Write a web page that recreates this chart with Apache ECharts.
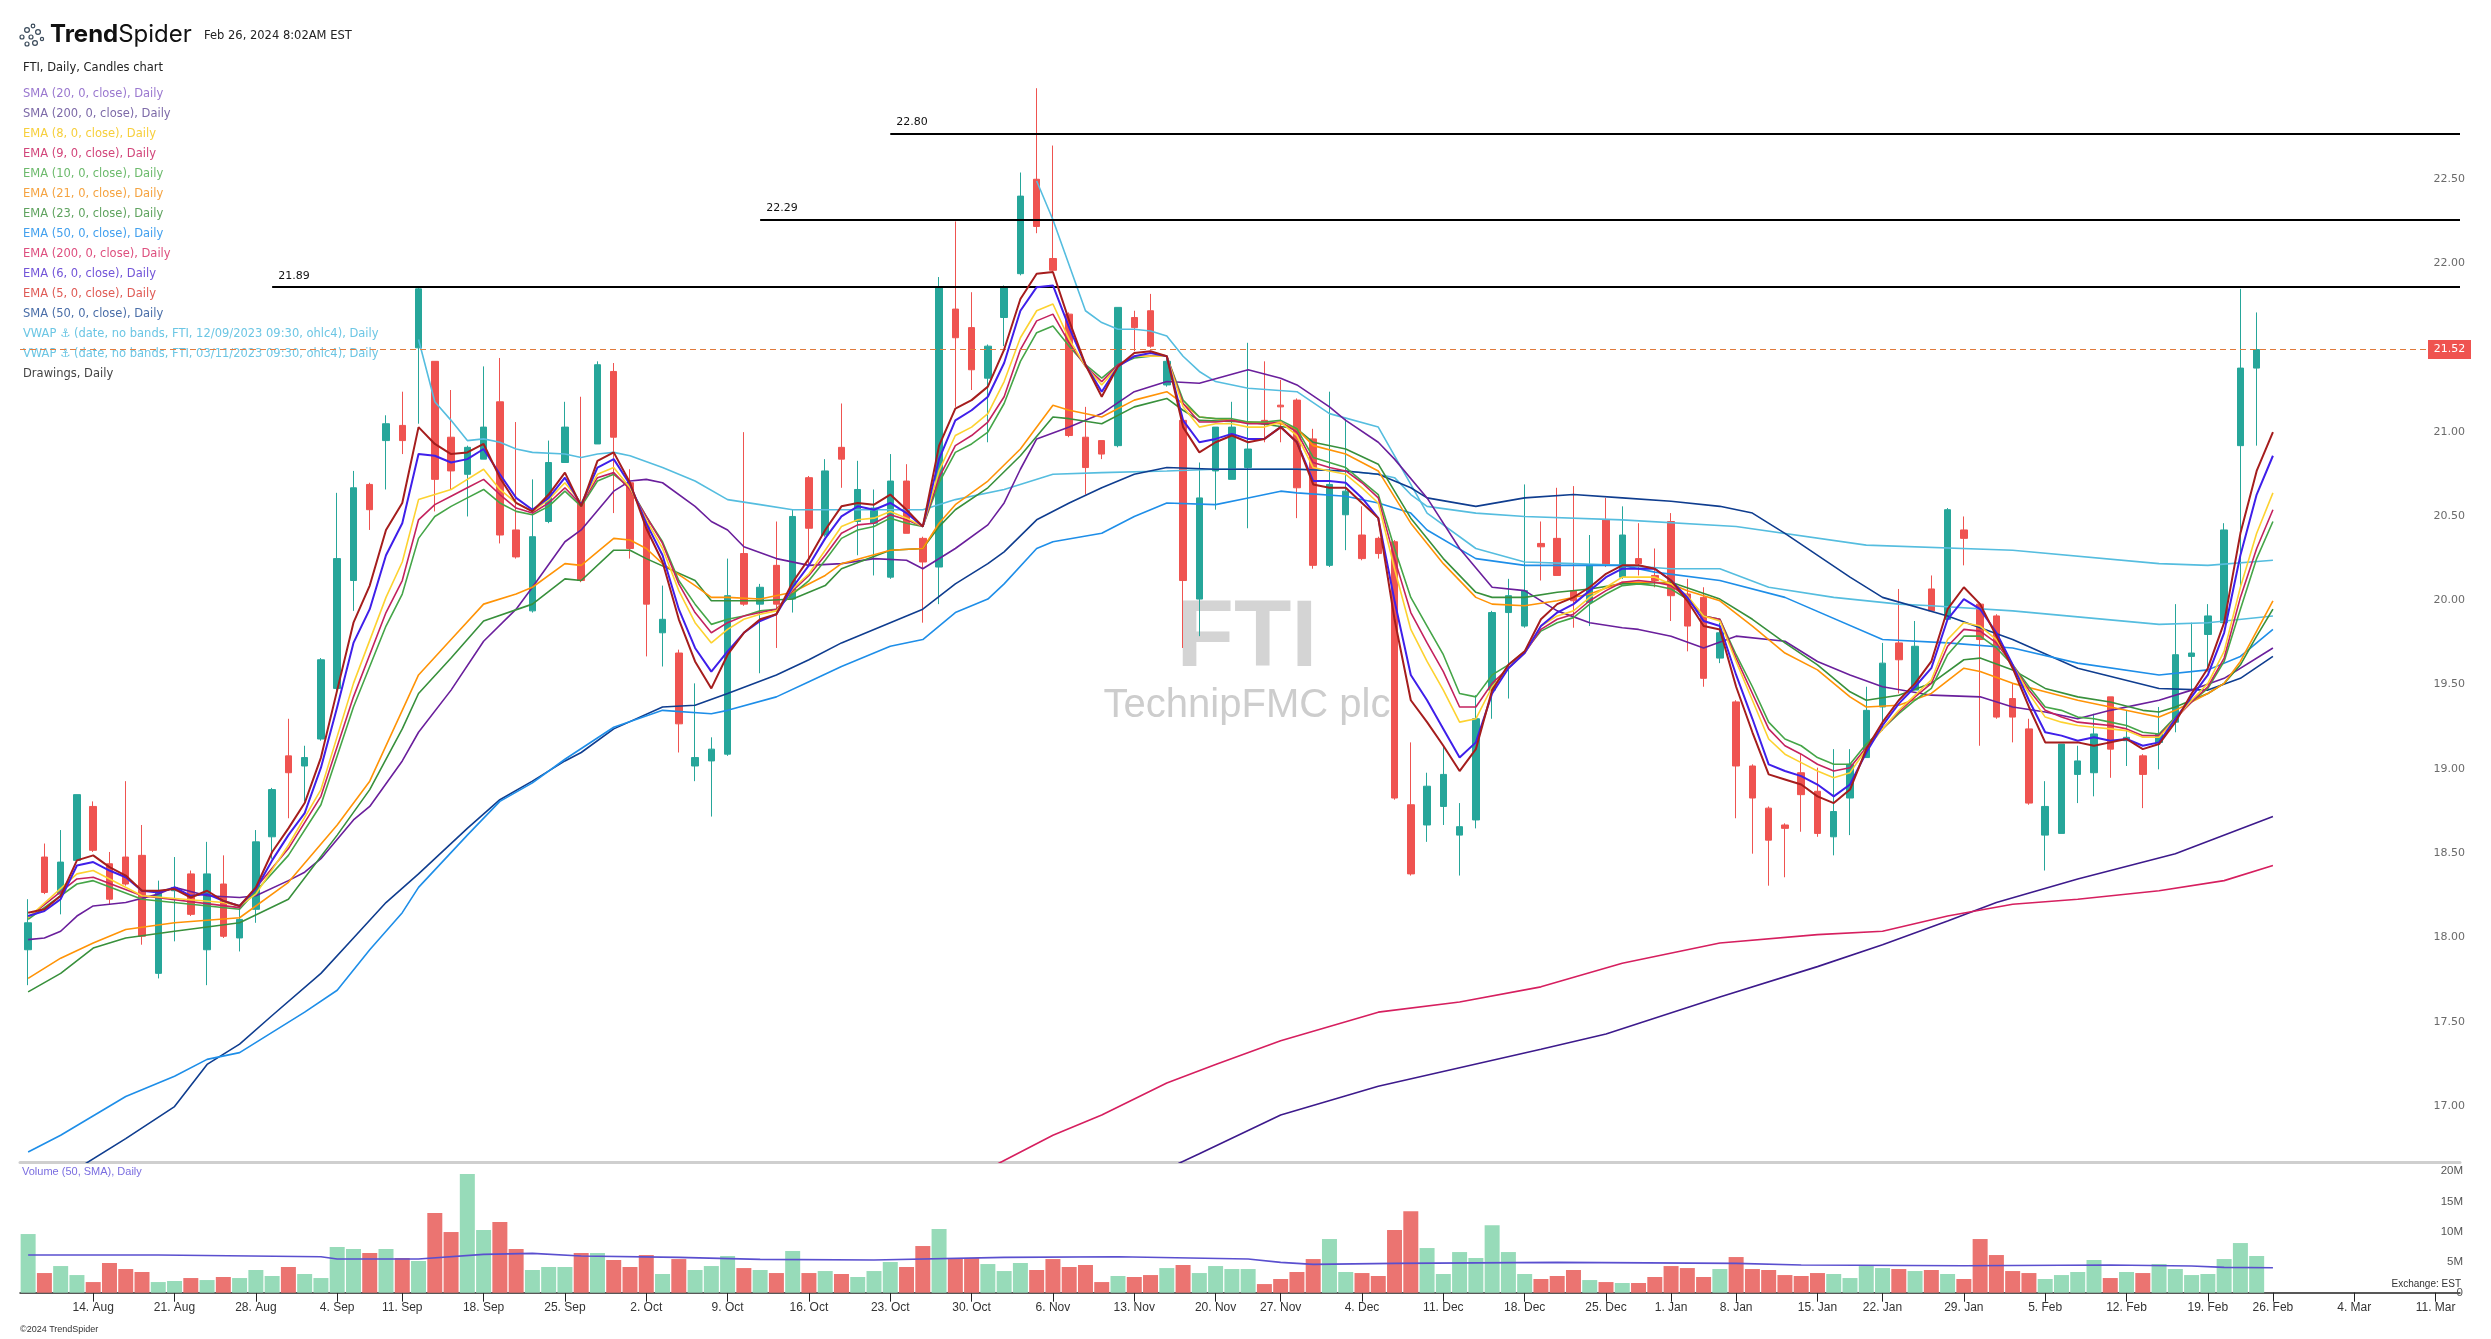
<!DOCTYPE html>
<html><head><meta charset="utf-8">
<script src="https://cdn.jsdelivr.net/npm/echarts@6/dist/echarts.min.js"></script>
<style>html,body{margin:0;padding:0;background:#fff}#c{width:2491px;height:1339px}</style>
</head><body><div id="c"></div>
<script>
// ---------- DATA ----------
const tradingDays = [
 '2023-08-08','2023-08-09','2023-08-10','2023-08-11','2023-08-14','2023-08-15','2023-08-16','2023-08-17','2023-08-18','2023-08-21',
 '2023-08-22','2023-08-23','2023-08-24','2023-08-25','2023-08-28','2023-08-29','2023-08-30','2023-08-31','2023-09-01','2023-09-05',
 '2023-09-06','2023-09-07','2023-09-08','2023-09-11','2023-09-12','2023-09-13','2023-09-14','2023-09-15','2023-09-18','2023-09-19',
 '2023-09-20','2023-09-21','2023-09-22','2023-09-25','2023-09-26','2023-09-27','2023-09-28','2023-09-29','2023-10-02','2023-10-03',
 '2023-10-04','2023-10-05','2023-10-06','2023-10-09','2023-10-10','2023-10-11','2023-10-12','2023-10-13','2023-10-16','2023-10-17',
 '2023-10-18','2023-10-19','2023-10-20','2023-10-23','2023-10-24','2023-10-25','2023-10-26','2023-10-27','2023-10-30','2023-10-31',
 '2023-11-01','2023-11-02','2023-11-03','2023-11-06','2023-11-07','2023-11-08','2023-11-09','2023-11-10','2023-11-13','2023-11-14',
 '2023-11-15','2023-11-16','2023-11-17','2023-11-20','2023-11-21','2023-11-22','2023-11-24','2023-11-27','2023-11-28','2023-11-29',
 '2023-11-30','2023-12-01','2023-12-04','2023-12-05','2023-12-06','2023-12-07','2023-12-08','2023-12-11','2023-12-12','2023-12-13',
 '2023-12-14','2023-12-15','2023-12-18','2023-12-19','2023-12-20','2023-12-21','2023-12-22','2023-12-26','2023-12-27','2023-12-28',
 '2023-12-29','2024-01-02','2024-01-03','2024-01-04','2024-01-05','2024-01-08','2024-01-09','2024-01-10','2024-01-11','2024-01-12',
 '2024-01-16','2024-01-17','2024-01-18','2024-01-19','2024-01-22','2024-01-23','2024-01-24','2024-01-25','2024-01-26','2024-01-29',
 '2024-01-30','2024-01-31','2024-02-01','2024-02-02','2024-02-05','2024-02-06','2024-02-07','2024-02-08','2024-02-09','2024-02-12',
 '2024-02-13','2024-02-14','2024-02-15','2024-02-16','2024-02-20','2024-02-21','2024-02-22','2024-02-23'
];
const futureDays = ['2024-02-26','2024-02-27','2024-02-28','2024-02-29','2024-03-01','2024-03-04','2024-03-05','2024-03-06','2024-03-07','2024-03-08','2024-03-11','2024-03-12'];

const opens = [
 17.96,18.51,18.29,18.49,18.81,18.47,18.51,18.52,17.82,18.31,
 18.41,17.96,18.35,18.03,18.20,18.63,19.11,19.05,19.21,19.51,
 20.15,20.72,20.98,21.07,21.53,21.45,21.00,20.78,20.87,21.21,
 20.45,19.97,20.50,20.85,20.62,20.96,21.39,20.73,20.50,19.84,
 19.72,19.05,19.08,19.12,20.31,20.01,20.24,20.04,20.76,20.42,
 20.94,20.50,20.49,20.17,20.74,20.40,20.23,21.76,21.65,21.35,
 21.71,21.97,22.53,22.06,21.73,21.00,20.98,20.95,21.71,21.75,
 21.31,21.10,20.04,20.80,20.75,20.82,21.10,21.19,21.22,20.99,
 20.24,20.54,20.42,20.40,20.38,18.82,18.70,18.81,18.64,18.73,
 19.50,19.96,19.88,20.37,20.40,20.09,20.02,20.51,20.17,20.28,
 20.18,20.50,20.07,20.05,19.69,19.43,19.05,18.80,18.70,19.01,
 18.90,18.63,18.86,19.10,19.40,19.78,19.50,20.10,19.92,20.45,
 20.01,19.94,19.45,19.27,18.64,18.65,19.00,19.01,19.46,19.20,
 19.11,19.19,19.31,19.70,19.83,19.90,20.95,21.41
];
const closes = [
 18.12,18.30,18.48,18.88,18.55,18.26,18.35,18.04,18.31,18.33,
 18.17,18.41,18.04,18.14,18.60,18.91,19.01,19.10,19.68,20.28,
 20.70,20.57,21.08,20.98,21.88,20.75,20.80,20.94,21.06,20.42,
 20.29,20.41,20.85,21.06,20.15,21.43,21.00,20.34,20.01,19.92,
 19.30,19.10,19.15,20.06,20.01,20.11,20.01,20.53,20.46,20.80,
 20.87,20.69,20.58,20.74,20.43,20.26,21.89,21.59,21.40,21.54,
 21.89,22.43,22.25,21.99,21.01,20.82,20.90,21.77,21.65,21.54,
 21.45,20.15,20.64,21.06,21.06,20.93,21.08,21.18,20.70,20.24,
 20.72,20.68,20.28,20.31,18.86,18.41,18.93,19.00,18.69,19.33,
 19.96,20.06,20.09,20.35,20.18,20.03,20.24,20.24,20.42,20.25,
 20.15,20.06,19.88,19.57,19.84,19.05,18.86,18.61,18.68,18.88,
 18.65,18.78,19.06,19.38,19.66,19.68,19.76,19.97,20.57,20.40,
 19.80,19.34,19.34,18.83,18.81,19.18,19.08,19.24,19.15,19.22,
 19.00,19.24,19.71,19.72,19.94,20.45,21.41,21.52
];
const lows = [
 17.75,18.29,18.17,18.49,18.54,18.23,18.34,17.99,17.79,18.01,
 18.16,17.75,18.03,17.95,18.12,18.50,18.74,18.84,19.20,19.50,
 19.97,20.45,20.69,20.90,21.08,20.56,20.69,20.53,20.87,20.37,
 20.28,19.96,20.49,20.85,20.14,20.96,20.55,20.28,19.70,19.64,
 19.13,18.96,18.75,19.11,20.00,19.60,19.75,19.96,20.24,20.41,
 20.70,20.30,20.18,20.16,20.43,19.90,20.01,21.18,21.28,20.97,
 21.54,21.96,22.21,21.98,21.00,20.66,20.87,20.94,21.51,21.53,
 21.30,19.75,19.82,20.57,20.75,20.46,20.97,20.97,20.52,20.22,
 20.23,20.33,20.27,20.28,18.85,18.40,18.60,18.70,18.40,18.68,
 19.33,19.45,19.87,20.15,20.18,19.87,19.88,20.23,20.16,20.18,
 20.11,19.91,19.73,19.52,19.66,18.74,18.53,18.34,18.39,18.66,
 18.63,18.52,18.64,19.10,19.26,19.48,19.50,19.97,19.92,20.24,
 19.17,19.33,19.19,18.82,18.43,18.65,18.83,18.87,18.98,19.05,
 18.80,19.03,19.25,19.50,19.61,19.90,20.11,20.95
];
const highs = [
 18.26,18.59,18.67,18.88,18.84,18.54,18.96,18.70,18.37,18.51,
 18.43,18.60,18.52,18.22,18.67,18.92,19.33,19.17,19.69,20.67,
 20.80,20.73,21.13,21.27,21.89,21.45,21.28,20.95,21.42,21.47,
 21.09,20.75,20.98,21.21,21.24,21.45,21.44,20.81,20.51,20.12,
 19.74,19.54,19.22,20.28,21.03,20.13,20.50,20.57,20.77,20.87,
 21.20,20.86,20.69,20.90,20.84,20.41,21.95,22.28,21.86,21.55,
 21.90,22.57,23.07,22.73,21.74,21.18,20.98,21.77,21.75,21.85,
 21.48,21.10,20.85,21.06,21.21,21.56,21.45,21.34,21.23,21.05,
 21.27,21.11,20.59,20.41,20.39,19.19,19.01,19.17,18.83,19.47,
 19.97,20.16,20.72,20.50,20.70,20.71,20.42,20.64,20.59,20.49,
 20.34,20.55,20.16,20.11,19.90,19.44,19.06,18.81,18.71,19.12,
 19.04,19.15,19.15,19.52,19.78,20.10,19.91,20.18,20.58,20.53,
 20.02,19.95,19.54,19.33,18.96,19.18,19.17,19.36,19.46,19.38,
 19.12,19.40,20.01,19.90,20.01,20.49,21.88,21.74
];
// volume in millions
const volumes = [
 9.64,3.23,4.38,2.90,1.75,4.88,3.89,3.40,1.75,1.92,
 2.41,2.08,2.58,2.41,3.73,2.74,4.22,3.07,2.41,7.51,
 7.18,6.52,7.18,5.70,5.21,13.1,9.97,19.5,10.3,11.6,
 7.18,3.73,4.22,4.22,6.52,6.52,5.37,4.22,6.19,3.07,
 5.53,3.73,4.38,6.03,4.05,3.73,3.23,6.85,3.23,3.56,
 3.07,2.58,3.56,5.04,4.22,7.67,10.47,5.70,5.70,4.71,
 3.56,4.88,3.73,5.53,4.22,4.55,1.75,2.74,2.58,2.90,
 4.05,4.55,3.23,4.38,3.89,3.89,1.42,2.25,3.40,5.53,
 8.82,3.40,3.23,2.74,10.3,13.4,7.34,3.07,6.68,5.70,
 11.1,6.68,3.07,2.25,2.74,3.73,2.08,1.75,1.59,1.59,
 2.58,4.38,4.05,2.58,3.89,5.86,3.89,3.73,2.90,2.74,
 3.23,3.07,2.41,4.38,4.05,3.89,3.56,3.73,3.07,2.25,
 8.82,6.19,3.56,3.23,2.25,2.90,3.40,5.37,2.41,3.40,
 3.23,4.71,3.89,2.90,3.07,5.53,8.16,6.03
];
// volume SMA(50): [trading-day number, millions]
const volumeSma = [[0,6.19],[8,6.19],[18,5.92],[19,5.53],[24,5.53],[28,6.30],[31,6.47],[34,6.03],[40,5.81],[45,5.48],[52,5.37],[60,5.81],[67,5.92],[75,5.53],[77,4.99],[79,4.66],[84,4.82],[94,4.99],[105,4.82],[109,4.55],[119,4.44],[128,4.55],[133,4.38],[135,4.16],[138,4.11]];

// short EMAs, one value per trading day (index 138 = Feb 26), null = not read
const ema5 = [
 18.18,18.20,18.28,18.49,18.52,18.45,18.40,18.31,18.31,18.32,
 18.27,18.31,18.25,18.22,18.33,18.54,18.68,18.83,19.10,19.50,
 19.90,20.12,20.45,20.61,21.06,20.96,20.90,20.91,20.96,20.76,
 20.61,20.56,20.66,20.79,20.59,20.86,20.91,20.73,20.46,20.26,
 19.92,19.67,19.51,19.71,19.84,19.92,19.95,20.14,20.28,20.45,
 20.59,20.61,20.60,20.66,20.57,20.47,20.95,21.17,21.22,21.30,
 21.52,21.82,21.97,21.98,21.69,21.43,21.24,21.42,21.50,21.51,
 21.48,21.06,20.91,20.97,21.01,20.97,20.99,21.06,20.97,20.72,
 20.70,20.70,20.61,20.52,19.92,19.44,19.31,19.17,19.02,19.15,
 19.50,19.65,19.73,19.92,20.01,20.05,20.11,20.19,20.24,20.24,
 20.22,20.15,20.03,19.88,19.86,19.52,19.25,19.00,18.97,18.94,
 18.87,18.83,18.91,19.15,19.31,19.44,19.54,19.67,19.98,20.11,
 20.01,19.82,19.63,19.40,19.19,19.19,19.19,19.17,19.19,19.21,
 19.15,19.18,19.31,19.48,19.63,19.90,20.43,20.80,21.03
];
const ema6 = [
 18.16,18.19,18.26,18.46,18.48,18.43,18.39,18.31,18.30,18.33,
 18.28,18.29,18.25,18.22,18.32,18.49,18.64,18.77,19.04,19.40,
 19.78,19.98,20.30,20.49,20.90,20.89,20.85,20.87,20.93,20.78,
 20.64,20.57,20.64,20.76,20.60,20.82,20.87,20.72,20.49,20.30,
 19.98,19.75,19.61,19.73,19.84,19.91,19.95,20.11,20.24,20.40,
 20.53,20.59,20.57,20.61,20.55,20.47,20.87,21.10,21.16,21.24,
 21.44,21.75,21.89,21.90,21.65,21.43,21.27,21.42,21.48,21.50,
 21.48,21.10,20.97,20.99,21.02,20.99,20.99,21.06,20.97,20.74,
 20.74,20.73,20.64,20.52,20.03,19.59,19.44,19.27,19.10,19.19,
 19.48,19.63,19.72,19.88,19.96,20.01,20.09,20.17,20.22,20.22,
 20.22,20.15,20.05,19.91,19.88,19.59,19.33,19.06,19.02,18.99,
 18.94,18.87,18.94,19.13,19.29,19.42,19.52,19.63,19.92,20.04,
 19.98,19.84,19.65,19.44,19.25,19.23,19.20,19.22,19.20,19.21,
 19.17,19.19,19.33,19.46,19.59,19.84,20.30,20.66,20.89
];
const ema8 = [
 18.15,null,null,18.41,18.43,null,null,18.28,null,null,
 null,null,18.24,18.22,18.29,null,18.58,null,18.91,null,
 19.54,null,20.05,20.26,20.63,20.66,20.69,20.75,20.81,20.69,
 20.61,20.56,20.63,20.73,20.61,20.78,20.82,20.70,20.51,20.34,
 20.09,19.90,19.78,19.86,19.92,19.95,19.97,20.10,20.19,20.33,
 20.47,20.51,20.52,20.56,20.52,20.47,20.80,21.01,21.06,21.14,
 21.33,21.59,21.75,21.79,21.58,21.42,21.31,21.42,21.48,21.48,
 21.48,21.18,21.06,21.08,21.08,21.06,21.06,21.09,21.01,20.82,
 20.80,20.78,20.70,20.61,20.22,19.86,19.67,19.50,19.31,19.33,
 19.52,19.63,19.72,19.88,19.94,19.97,20.05,20.11,20.17,20.17,
 20.17,20.13,20.06,19.94,19.91,19.67,19.44,19.21,19.12,19.07,
 19.02,18.98,19.01,19.15,19.27,19.38,19.47,19.56,19.80,19.90,
 19.88,19.80,19.65,19.48,19.34,19.31,19.29,19.28,19.27,19.26,
 19.22,19.22,19.33,19.44,19.54,19.73,20.11,20.43,20.67
];
const ema9 = [
 18.15,null,null,18.38,18.39,null,null,18.28,null,null,
 null,null,null,18.21,null,null,18.56,null,18.87,null,
 19.46,null,19.96,20.15,20.51,20.60,20.65,20.70,20.75,20.66,
 20.58,20.55,20.61,20.70,20.60,20.76,20.79,20.69,20.53,20.37,
 20.13,19.96,19.84,19.90,19.94,19.96,19.98,20.09,20.18,20.30,
 20.43,20.48,20.49,20.54,20.51,20.47,20.76,20.95,21.01,21.09,
 21.24,21.52,21.69,21.73,21.56,21.42,21.33,21.43,21.48,21.48,
 21.48,21.20,21.09,21.09,21.10,21.08,21.08,21.09,21.03,20.85,
 20.82,20.80,20.73,20.64,20.28,19.96,19.78,19.61,19.40,19.40,
 19.54,19.63,19.72,19.86,19.92,19.95,20.03,20.09,20.14,20.15,
 20.14,20.12,20.05,19.94,19.92,19.69,19.48,19.27,19.17,19.12,
 19.06,19.02,19.04,19.16,19.27,19.37,19.46,19.54,19.76,19.86,
 19.85,19.78,19.65,19.50,19.38,19.34,19.31,19.30,19.29,19.27,
 19.23,19.23,19.33,19.43,19.52,19.69,20.05,20.34,20.57
];
const ema10 = [
 18.14,null,null,18.35,18.37,null,null,18.26,null,null,
 null,null,null,18.20,null,null,18.52,null,18.82,null,
 19.40,null,19.88,20.07,20.40,20.53,20.59,20.64,20.69,20.61,
 20.56,20.54,20.59,20.68,20.59,20.74,20.78,20.70,20.53,20.38,
 20.15,20.01,19.89,19.92,19.94,19.97,19.98,20.07,20.15,20.27,
 20.40,20.45,20.47,20.52,20.49,20.47,20.73,20.91,20.96,21.03,
 21.20,21.45,21.62,21.66,21.54,21.43,21.35,21.43,21.47,21.48,
 21.48,21.22,21.12,21.11,21.11,21.09,21.09,21.10,21.05,20.88,
 20.85,20.82,20.74,20.66,20.34,20.05,19.88,19.71,19.48,19.46,
 19.59,19.65,19.73,19.85,19.90,19.93,20.01,20.07,20.12,20.13,
 20.12,20.10,20.04,19.94,19.92,19.71,19.52,19.31,19.21,19.17,
 19.10,19.06,19.06,19.18,19.27,19.36,19.44,19.51,19.71,19.82,
 19.82,19.75,19.65,19.52,19.40,19.38,19.34,19.33,19.31,19.29,
 19.25,19.24,19.34,19.43,19.51,19.67,19.98,20.28,20.50
];
// slower lines, read at [trading-day number, price]
const sma20 = [[0,18.02],[1,18.03],[2,18.07],[3,18.16],[4,18.22],[6,18.24],[8,18.29],[9,18.33],[11,18.28],[13,18.27],[14,18.28],[16,18.37],[17,18.42],[18,18.50],[20,18.73],[21,18.81],[23,19.08],[24,19.25],[26,19.50],[28,19.79],[30,19.98],[31,20.11],[33,20.38],[34,20.45],[36,20.68],[37,20.74],[38,20.75],[39,20.73],[41,20.59],[42,20.50],[43,20.45],[44,20.35],[46,20.28],[48,20.24],[50,20.25],[52,20.28],[54,20.27],[55,20.22],[57,20.34],[59,20.48],[60,20.61],[61,20.81],[62,20.99],[64,21.06],[66,21.14],[68,21.27],[70,21.33],[72,21.32],[75,21.40],[77,21.35],[78,21.31],[80,21.18],[81,21.10],[83,20.97],[84,20.87],[86,20.64],[88,20.34],[90,20.11],[92,20.09],[94,19.97],[96,19.90],[98,19.87],[99,19.86],[101,19.82],[103,19.75],[105,19.82],[108,19.79],[110,19.67],[112,19.59],[114,19.52],[117,19.47],[120,19.46],[122,19.40],[124,19.37],[126,19.33],[128,19.38],[131,19.44],[133,19.50],[135,19.57],[138,19.75]];
const ema21 = [[0,17.79],[2,17.91],[4,18.00],[6,18.08],[9,18.12],[13,18.15],[16,18.36],[19,18.70],[21,18.96],[23,19.38],[24,19.59],[26,19.80],[28,20.01],[30,20.07],[31,20.11],[33,20.25],[34,20.24],[36,20.40],[37,20.39],[38,20.34],[39,20.25],[41,20.12],[42,20.05],[43,20.05],[45,20.04],[47,20.08],[49,20.18],[50,20.25],[53,20.33],[55,20.34],[56,20.49],[57,20.60],[59,20.74],[61,20.93],[63,21.19],[64,21.16],[66,21.12],[68,21.22],[70,21.27],[71,21.20],[72,21.12],[75,21.09],[77,21.08],[78,21.05],[79,20.95],[81,20.90],[83,20.80],[85,20.49],[87,20.25],[89,20.05],[90,20.01],[92,20.00],[94,20.03],[96,20.07],[98,20.14],[100,20.14],[101,20.13],[102,20.09],[104,20.03],[106,19.88],[108,19.72],[110,19.62],[112,19.46],[113,19.40],[115,19.41],[117,19.48],[119,19.63],[120,19.61],[122,19.54],[124,19.49],[126,19.44],[128,19.40],[130,19.36],[131,19.34],[132,19.38],[134,19.48],[135,19.54],[136,19.67],[137,19.85],[138,20.03]];
const ema23 = [[0,17.71],[2,17.82],[4,17.97],[6,18.03],[9,18.07],[13,18.12],[16,18.26],[19,18.64],[21,18.91],[23,19.27],[24,19.48],[26,19.69],[28,19.91],[31,20.01],[33,20.16],[34,20.15],[36,20.33],[37,20.33],[38,20.28],[41,20.15],[42,20.03],[45,20.03],[47,20.04],[49,20.12],[50,20.22],[53,20.33],[55,20.34],[56,20.47],[57,20.57],[59,20.70],[61,20.89],[63,21.12],[64,21.11],[66,21.08],[68,21.18],[70,21.23],[71,21.16],[72,21.10],[75,21.09],[78,21.05],[79,20.97],[81,20.93],[83,20.84],[85,20.52],[87,20.28],[89,20.08],[90,20.05],[92,20.05],[94,20.08],[96,20.10],[98,20.13],[101,20.14],[104,20.04],[106,19.92],[108,19.78],[110,19.65],[112,19.49],[113,19.44],[115,19.47],[117,19.54],[119,19.68],[120,19.69],[122,19.62],[124,19.51],[126,19.46],[128,19.43],[130,19.38],[131,19.37],[132,19.40],[134,19.48],[135,19.54],[136,19.65],[137,19.82],[138,19.98]];
const ema50 = [[0,16.76],[2,16.86],[6,17.09],[9,17.21],[11,17.31],[13,17.35],[17,17.59],[19,17.72],[21,17.96],[23,18.18],[24,18.33],[27,18.64],[29,18.84],[31,18.95],[33,19.09],[36,19.28],[39,19.38],[42,19.36],[43,19.38],[46,19.46],[48,19.55],[50,19.64],[53,19.76],[55,19.80],[57,19.96],[59,20.04],[60,20.13],[62,20.34],[63,20.38],[66,20.43],[68,20.53],[70,20.61],[73,20.60],[75,20.64],[77,20.68],[78,20.67],[81,20.65],[83,20.61],[85,20.55],[86,20.45],[89,20.28],[92,20.24],[95,20.24],[98,20.24],[100,20.20],[104,20.15],[108,20.05],[114,19.80],[118,19.78],[122,19.75],[126,19.66],[131,19.59],[134,19.62],[136,19.70],[138,19.86]];
const sma50 = [[0,16.45],[3,16.66],[6,16.84],[9,17.03],[11,17.28],[13,17.40],[15,17.57],[18,17.82],[20,18.03],[22,18.24],[24,18.41],[27,18.68],[29,18.85],[31,18.96],[33,19.08],[34,19.13],[36,19.27],[39,19.40],[41,19.41],[43,19.48],[46,19.59],[48,19.68],[50,19.78],[53,19.90],[55,19.98],[57,20.13],[59,20.25],[60,20.32],[62,20.51],[64,20.61],[66,20.70],[68,20.78],[70,20.82],[73,20.81],[75,20.81],[78,20.81],[81,20.80],[83,20.78],[85,20.70],[86,20.64],[89,20.59],[92,20.64],[95,20.66],[98,20.64],[101,20.62],[104,20.59],[106,20.55],[108,20.43],[112,20.17],[114,20.05],[118,19.94],[122,19.80],[126,19.63],[131,19.51],[134,19.50],[136,19.57],[138,19.70]];
const sma200 = [[66,16.50],[70,16.66],[72,16.75],[77,16.98],[83,17.15],[88,17.26],[93,17.37],[97,17.46],[104,17.68],[110,17.86],[114,17.99],[118,18.13],[121,18.24],[126,18.38],[132,18.53],[138,18.75]];
const ema200 = [[57,16.56],[60,16.71],[63,16.86],[66,16.98],[70,17.17],[73,17.28],[77,17.42],[83,17.59],[88,17.65],[93,17.74],[98,17.88],[104,18.00],[110,18.05],[114,18.07],[118,18.16],[122,18.23],[126,18.26],[131,18.31],[135,18.37],[138,18.46]];
const vwapSep = [[24,21.58],[25,21.21],[26,21.10],[27,20.98],[28,20.99],[29,20.97],[30,20.93],[31,20.91],[33,20.90],[34,20.88],[35,20.90],[36,20.91],[37,20.89],[39,20.82],[41,20.74],[43,20.63],[45,20.60],[47,20.57],[50,20.57],[55,20.57],[57,20.63],[60,20.69],[63,20.78],[66,20.79],[70,20.80],[73,20.81],[78,20.81],[81,20.80],[83,20.78],[84,20.76],[85,20.66],[86,20.59],[89,20.55],[92,20.53],[98,20.51],[105,20.47],[113,20.36],[122,20.33],[131,20.25],[134,20.24],[138,20.27]];
const vwapNov = [[62,22.52],[63,22.29],[64,22.02],[65,21.75],[66,21.68],[67,21.64],[68,21.64],[69,21.63],[70,21.60],[71,21.48],[72,21.39],[73,21.33],[75,21.29],[78,21.27],[80,21.14],[83,21.06],[85,20.72],[86,20.55],[89,20.34],[92,20.26],[95,20.25],[98,20.24],[101,20.22],[104,20.22],[107,20.11],[111,20.05],[115,20.01],[117,20.00],[122,19.97],[131,19.89],[134,19.90],[138,19.94]];

// horizontal levels (value, first day drawn)
const levels = [{value:21.89, from:'2023-08-29'},{value:22.29, from:'2023-10-11'},{value:22.80, from:'2023-10-23'}];
const lastPrice = 21.52;
const priceTicks = [17,17.5,18,18.5,19,19.5,20,20.5,21,21.5,22,22.5];
const volumeTicks = [0,5,10,15,20];
const tickLabels = {'2023-08-14':'14. Aug','2023-08-21':'21. Aug','2023-08-28':'28. Aug','2023-09-05':'4. Sep','2023-09-11':'11. Sep','2023-09-18':'18. Sep','2023-09-25':'25. Sep','2023-10-02':'2. Oct','2023-10-09':'9. Oct','2023-10-16':'16. Oct','2023-10-23':'23. Oct','2023-10-30':'30. Oct','2023-11-06':'6. Nov','2023-11-13':'13. Nov','2023-11-20':'20. Nov','2023-11-27':'27. Nov','2023-12-04':'4. Dec','2023-12-11':'11. Dec','2023-12-18':'18. Dec','2023-12-26':'25. Dec','2024-01-02':'1. Jan','2024-01-08':'8. Jan','2024-01-16':'15. Jan','2024-01-22':'22. Jan','2024-01-29':'29. Jan','2024-02-05':'5. Feb','2024-02-12':'12. Feb','2024-02-20':'19. Feb','2024-02-26':'26. Feb','2024-03-04':'4. Mar','2024-03-11':'11. Mar'};

const legendItems = [
 ['SMA (20, 0, close), Daily','#9a78cf'],
 ['SMA (200, 0, close), Daily','#7d6aa8'],
 ['EMA (8, 0, close), Daily','#f7cf3c'],
 ['EMA (9, 0, close), Daily','#d2457a'],
 ['EMA (10, 0, close), Daily','#6cba6c'],
 ['EMA (21, 0, close), Daily','#f5a340'],
 ['EMA (23, 0, close), Daily','#5fa35f'],
 ['EMA (50, 0, close), Daily','#42a0ee'],
 ['EMA (200, 0, close), Daily','#de4f7e'],
 ['EMA (6, 0, close), Daily','#7254d8'],
 ['EMA (5, 0, close), Daily','#df5a55'],
 ['SMA (50, 0, close), Daily','#4a6ea8'],
 ['VWAP \u2693 (date, no bands, FTI, 12/09/2023 09:30, ohlc4), Daily','#6cc6e4'],
 ['VWAP \u2693 (date, no bands, FTI, 03/11/2023 09:30, ohlc4), Daily','#6cc6e4'],
 ['Drawings, Daily','#444444']
];

// ---------- CHART ----------
const cats = tradingDays.concat(futureDays);
const DV = 'DejaVu Sans, Verdana, sans-serif';
const chart = echarts.init(document.getElementById('c'), null, {width:2491, height:1339});
const pairs = arr => arr.map(p => [cats[p[0]], p[1]]);
const showTick = (i, v) => tickLabels[v] !== undefined;

function lineS(name, data, color, width, z){
  return {type:'line', name, data, xAxisIndex:0, yAxisIndex:0, showSymbol:false, symbol:'none',
    connectNulls:true, clip:true, silent:true, animation:false, z:z||3,
    lineStyle:{color, width:width||1.6}};
}

const UP='#26a69a', DOWN='#ef5350';
const volData = volumes.map((v,i)=>({value:v, itemStyle:{color: closes[i]>=opens[i] ? '#97dbb9' : '#eb7471'}}));

function levelLines(endX){
  return levels.map(l => [
    {coord:[l.from, l.value], lineStyle:{color:'#000', width:2, type:'solid'},
     label:{show:true, position:'insideStartTop', formatter: l.value.toFixed(2), color:'#111', fontSize:11, fontFamily:DV, distance:6}},
    endX == null ? {coord:[cats[cats.length-1], l.value]} : {coord:[cats[cats.length-1], l.value], x:endX}
  ]).concat([{yAxis:lastPrice, lineStyle:{color:'#e07a3c', width:1, type:[6,4]}, label:{show:false}}]);
}

const option = {
  animation:false,
  backgroundColor:'#ffffff',
  textStyle:{fontFamily:DV},
  grid:[
    {left:20, right:31, top:41, height:1121.2},
    {left:20, right:31, top:1171, height:121.7}
  ],
  xAxis:[
    {type:'category', data:cats, gridIndex:0, boundaryGap:true,
     axisLine:{show:true, lineStyle:{color:'#cfcfcf', width:3}}, axisTick:{show:false}, axisLabel:{show:false}, splitLine:{show:false}},
    {type:'category', data:cats, gridIndex:1, boundaryGap:true,
     axisLine:{show:true, lineStyle:{color:'#222', width:1.5}},
     axisTick:{show:true, alignWithLabel:true, interval:showTick, length:9, lineStyle:{color:'#222', width:1}},
     axisLabel:{interval:showTick, formatter:v => tickLabels[v] || '', color:'#333', fontSize:12, margin:9,
       fontFamily:'Liberation Sans Narrow, Liberation Sans, Arial, sans-serif'},
     splitLine:{show:false}}
  ],
  yAxis:[
    {type:'value', gridIndex:0, position:'right', min:16.70, max:23.35, scale:true,
     splitLine:{show:false}, axisLine:{show:false}, axisTick:{show:false},
     axisLabel:{inside:true, margin:-5, customValues:priceTicks, formatter:v=>v.toFixed(2), color:'#6b6b6b', fontSize:11,
       fontFamily:DV, verticalAlign:'bottom'}},
    {type:'value', gridIndex:1, position:'right', min:0, max:20,
     splitLine:{show:false}, axisLine:{show:false}, axisTick:{show:false},
     axisLabel:{inside:true, margin:-3, customValues:volumeTicks, formatter:v=> v===0 ? '0' : v+'M', color:'#555', fontSize:11.5,
       fontFamily:'Liberation Sans Narrow, Liberation Sans, Arial, sans-serif'}}
  ],
  series:[
    {type:'candlestick', name:'FTI', xAxisIndex:0, yAxisIndex:0, z:2, barWidth:7,
     data: opens.map((o,i)=>[o, closes[i], lows[i], highs[i]]),
     itemStyle:{color:UP, color0:DOWN, borderColor:UP, borderColor0:DOWN, borderWidth:1},
     markLine:{symbol:['none','none'], silent:true, animation:false, data: levelLines(null)}},
    lineS('VWAP Sep', pairs(vwapSep), '#55bddf', 1.6),
    lineS('VWAP Nov', pairs(vwapNov), '#55bddf', 1.6),
    lineS('SMA 200', pairs(sma200), '#3d1a8c', 1.6),
    lineS('EMA 200', pairs(ema200), '#d61f5f', 1.6),
    lineS('SMA 50', pairs(sma50), '#0f3d8f', 1.6),
    lineS('EMA 50', pairs(ema50), '#1e8ee8', 1.6),
    lineS('SMA 20', pairs(sma20), '#6a1f9c', 1.6),
    lineS('EMA 23', pairs(ema23), '#38903c', 1.6),
    lineS('EMA 21', pairs(ema21), '#ff9306', 1.6),
    lineS('EMA 10', ema10, '#45a548', 1.6, 4),
    lineS('EMA 9', ema9, '#c4225e', 1.6, 4),
    lineS('EMA 8', ema8, '#fdd230', 1.6, 4),
    lineS('EMA 6', ema6, '#3f1fea', 2, 5),
    lineS('EMA 5', ema5, '#a51d1d', 2, 5),
    {type:'bar', name:'Volume', xAxisIndex:1, yAxisIndex:1, data:volData, barWidth:15, z:2},
    {type:'line', name:'Volume SMA', xAxisIndex:1, yAxisIndex:1, data:pairs(volumeSma), showSymbol:false, symbol:'none',
     lineStyle:{color:'#5a4fcf', width:1.6}, z:3, silent:true}
  ]
};
chart.setOption(option);

// extend level lines to the right edge of the last slot (measured through the axis)
const xLast = chart.convertToPixel({xAxisIndex:0}, cats[cats.length-1]);
const xPrev = chart.convertToPixel({xAxisIndex:0}, cats[cats.length-2]);
const edgeX = xLast + (xLast - xPrev) / 2;
chart.setOption({series:[{markLine:{data: levelLines(edgeX)}}]});

// ---------- decorations ----------
const g = [];
g.push({type:'text', id:'wm1', z:-10, style:{x:1247, y:640, text:'FTI', fill:'#d4d4d4', font:'bold 94px Liberation Sans, Arial, sans-serif', textAlign:'center', textVerticalAlign:'middle'}});
g.push({type:'text', id:'wm2', z:-10, style:{x:1247, y:706, text:'TechnipFMC plc', fill:'#cdcdcd', font:'40px Liberation Sans, Arial, sans-serif', textAlign:'center', textVerticalAlign:'middle'}});
[[22,37,2],[27,30,2.4],[33,26,1.8],[31,37,2],[38,32,2.4],[27,44,2],[35,43,2.4],[42,39,1.6]].forEach((c,i)=>{
  g.push({type:'circle', id:'logo'+i, shape:{cx:c[0], cy:c[1], r:c[2]}, style:{fill:'none', stroke:'#3a4a5a', lineWidth:1.2}});
});
g.push({type:'text', id:'brand', style:{x:50, y:35, text:'{b|Trend}{r|Spider}', textVerticalAlign:'middle',
  rich:{b:{fontSize:24, fontWeight:'bold', fill:'#111', fontFamily:'Inter, Lato, sans-serif'}, r:{fontSize:24, fill:'#111', fontFamily:'Inter, Lato, sans-serif'}}}});
g.push({type:'text', id:'date', style:{x:204, y:36, text:'Feb 26, 2024 8:02AM EST', fill:'#222', font:'11.5px ' + DV, textVerticalAlign:'middle'}});
g.push({type:'text', id:'sub', style:{x:23, y:68, text:'FTI, Daily, Candles chart', fill:'#222', font:'11.5px ' + DV, textVerticalAlign:'middle'}});
legendItems.forEach((it,i)=>{
  g.push({type:'text', id:'lg'+i, style:{x:23, y:94+i*20, text:it[0], fill:it[1], font:'11.5px ' + DV, textVerticalAlign:'middle'}});
});
g.push({type:'text', id:'vol', style:{x:22, y:1172, text:'Volume (50, SMA), Daily', fill:'#7a6de0', font:'11px Liberation Sans Narrow, Liberation Sans, Arial, sans-serif', textVerticalAlign:'middle'}});
g.push({type:'text', id:'exch', style:{x:2461, y:1284, text:'Exchange: EST', fill:'#333', font:'10px Liberation Sans Narrow, Liberation Sans, Arial, sans-serif', textAlign:'right', textVerticalAlign:'middle'}});
g.push({type:'text', id:'copy', style:{x:20, y:1330, text:'\u00a92024 TrendSpider', fill:'#333', font:'9px Liberation Sans Narrow, Liberation Sans, Arial, sans-serif', textVerticalAlign:'middle'}});
const py = chart.convertToPixel({yAxisIndex:0}, lastPrice);
g.push({type:'rect', id:'tagbg', z:20, shape:{x:2428, y:py-9.5, width:43, height:19}, style:{fill:'#ef5350'}});
g.push({type:'text', id:'tagtx', z:21, style:{x:2449.5, y:py, text:lastPrice.toFixed(2), fill:'#fff', font:'11px ' + DV, textAlign:'center', textVerticalAlign:'middle'}});
chart.setOption({graphic:{elements:g}});
</script>
</body></html>
